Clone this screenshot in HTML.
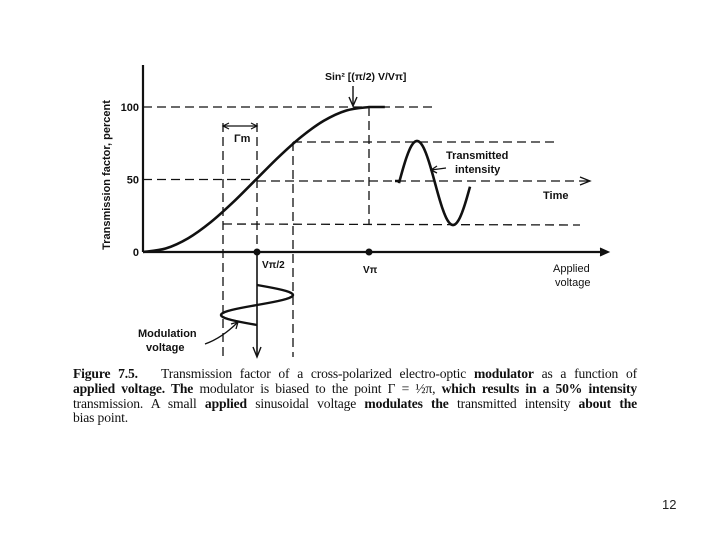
<!DOCTYPE html>
<html><head><meta charset="utf-8"><style>
body{margin:0;background:#fff;width:720px;height:540px;overflow:hidden;position:relative}
svg{position:absolute;left:0;top:0}
.cap{position:absolute;left:73px;top:367px;width:564px;font-family:"Liberation Serif",serif;font-size:13.6px;line-height:14.8px;color:#111}
.cap div{text-align:justify;text-align-last:justify;white-space:nowrap;letter-spacing:-0.15px}
.cap div.last{text-align-last:left}
.pg{position:absolute;left:662px;top:497px;font-family:"Liberation Sans",sans-serif;font-size:13px;color:#222}
</style></head><body>
<svg width="720" height="540">
<g id="g" stroke="#111" fill="none" font-family="Liberation Sans, sans-serif"></g>
</svg>
<div class="cap">
<div><b>Figure 7.5.</b>&nbsp;&nbsp; Transmission factor of a cross-polarized electro-optic <b>modulator</b> as a function of</div>
<div><b>applied voltage. The</b> modulator is biased to the point Γ = ½π, <b>which results in a 50% intensity</b></div>
<div>transmission. A small <b>applied</b> sinusoidal voltage <b>modulates the</b> transmitted intensity <b>about the</b></div>
<div class="last">bias point.</div>
</div>
<div class="pg">12</div>
<script>
const vRatios=[0,0.1,0.2,0.3,0.4,0.5,0.6,0.7,0.8,0.9,1.0];
const transmission=[0,2.4,9.5,20.6,34.5,50,65.5,79.4,90.5,97.6,100];
const yTicks=[0,50,100];
const X0=143,XPI=369,Y0=252,Y100=107;
const sx=v=>X0+(XPI-X0)*v, sy=t=>Y0+(Y100-Y0)*t/100;
const g=document.getElementById('g');
const NS='http://www.w3.org/2000/svg';
function el(tag,at,txt){const e=document.createElementNS(NS,tag);for(const k in at)e.setAttribute(k,at[k]);if(txt)e.textContent=txt;g.appendChild(e);return e;}
function line(x1,y1,x2,y2,dash,w){return el('line',{x1,y1,x2,y2,'stroke-width':w||1.3,'stroke-dasharray':dash?'9,5':'none'});}
function text(x,y,s,sz,anchor,w){const t=el('text',{x,y,'font-size':sz||11,'text-anchor':anchor||'start',fill:'#111',stroke:'none','font-weight':w||'bold'},s);return t;}
let a=line(X0,65,X0,Y0,false,2.2);
a=line(X0,Y0,600,Y0,false,2.2);
el('path',{d:'M600,248 L609,252 L600,256',fill:'#111','stroke-width':1});
yTicks.forEach(t=>{const l=text(139,sy(t)+4,String(t),11,'end');});
let yt=text(0,0,'Transmission  factor,  percent',11,'middle','bold');
yt.setAttribute('transform','translate(110,175) rotate(-90)');

let d='';
const pts=vRatios.map((v,i)=>[sx(v),sy(transmission[i])]);
d='M'+pts[0][0]+','+pts[0][1];
for(let i=0;i<pts.length-1;i++){const p0=pts[i-1]||pts[i],p1=pts[i],p2=pts[i+1],p3=pts[i+2]||p2;
d+=` C${p1[0]+(p2[0]-p0[0])/6},${p1[1]+(p2[1]-p0[1])/6} ${p2[0]-(p3[0]-p1[0])/6},${p2[1]-(p3[1]-p1[1])/6} ${p2[0]},${p2[1]}`;}
d+=` L${sx(1.07)},${sy(100)}`;
let c=el('path',{d,'stroke-width':2.6});
line(X0,sy(100),437,sy(100),true);
line(X0,sy(50),257,sy(50),true);
line(257,181,590,181,true);
el('path',{d:'M580,177 L590,181 L580,185','stroke-width':1.3});
line(293,142,555,142,true);
line(223,224,580,225,true);
line(XPI,sy(100),XPI,224,true);
line(223,123,223,357,true);line(293,142,293,357,true);
line(257,123,257,Y0,true);line(257,Y0,257,355,false,1.6);
el('path',{d:'M253,347 L257,357 L261,347','stroke-width':1.4});
line(223,126,257,126,false,1.2);
el('path',{d:'M229,123 L223,126 L229,129 M251,123 L257,126 L251,129','stroke-width':1.2});
text(234,142,'Γm',11);
el('circle',{cx:257,cy:Y0,r:3,fill:'#111'});el('circle',{cx:XPI,cy:Y0,r:3,fill:'#111'});
text(262,268,'Vπ/2',10);text(363,273,'Vπ',10);
text(553,272,'Applied',11,'start','normal');text(555,286,'voltage',11,'start','normal');
text(543,199,'Time',11);
text(325,80,'Sin² [(π/2) V/Vπ]',10.5);
line(353,86,353,104,false,1.4);el('path',{d:'M349,97 L353,106 L357,97','stroke-width':1.4});
text(446,159,'Transmitted',11);text(455,173,'intensity',11);
el('path',{d:'M446,168 L431,170 M437,166 L431,170 L437,173','stroke-width':1.3});
let s='M395,181 L399,181';
for(let x=399;x<=470;x+=1){const y=183-42*Math.sin(2*Math.PI*(x-399)/72);s+=` L${x},${y}`;}
el('path',{d:s,'stroke-width':2.6});
let m='M257,285';
for(let y=285;y<=325;y+=1){m+=` L${257+36*Math.sin(2*Math.PI*(y-285)/40)},${y}`;}
el('path',{d:m,'stroke-width':2.4});
text(138,337,'Modulation',11);text(146,351,'voltage',11);
el('path',{d:'M205,344 Q222,338 238,322','stroke-width':1.3});
el('path',{d:'M231,324 L238,322 L236,329','stroke-width':1.3});
</script>
</body></html>
